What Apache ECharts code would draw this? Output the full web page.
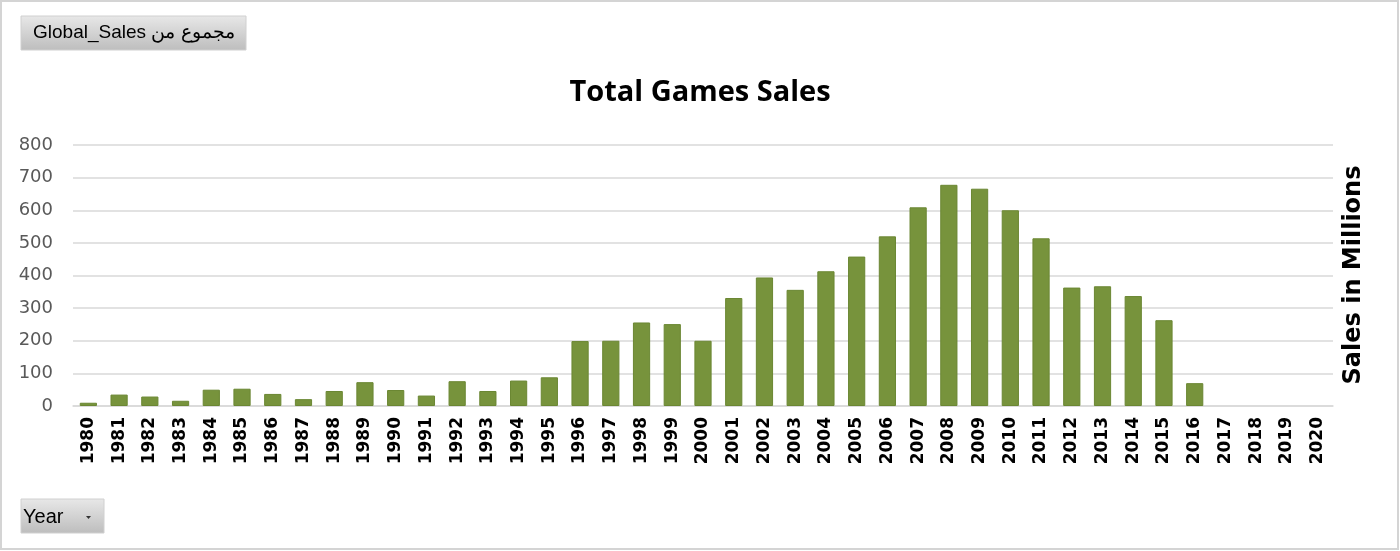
<!DOCTYPE html>
<html>
<head>
<meta charset="utf-8">
<script src="https://cdn.jsdelivr.net/npm/echarts@6/dist/echarts.min.js"></script>
<style>
  html, body { margin: 0; padding: 0; background: #fff; }
  #chart { width: 1400px; height: 551px; }
</style>
</head>
<body>
<div id="chart"></div>
<script>
// years on the x axis
const years = ['1980', '1981', '1982', '1983', '1984', '1985', '1986', '1987', '1988', '1989',
  '1990', '1991', '1992', '1993', '1994', '1995', '1996', '1997', '1998', '1999',
  '2000', '2001', '2002', '2003', '2004', '2005', '2006', '2007', '2008', '2009',
  '2010', '2011', '2012', '2013', '2014', '2015', '2016', '2017', '2018', '2019', '2020']

// global sales, millions; no visible bar after 2016
const sales = [10, 35, 29, 16, 50, 53, 37, 21, 46, 73,
  49, 32, 76, 46, 78, 88, 199, 200, 256, 251,
  200, 331, 394, 356, 413, 458, 520, 609, 678, 666,
  600, 514, 363, 367, 337, 263, 70, null, null, null, null]

const yTicks = [0, 100, 200, 300, 400, 500, 600, 700, 800]

const titleText = 'Total Games Sales'
const axisName = 'Sales in Millions'
const filterLabel = 'Global_Sales مجموع من'
const rowLabel = 'Year'

const chart = echarts.init(document.getElementById('chart'))

const btnFill = new echarts.graphic.LinearGradient(0, 0, 0, 1, [
  { offset: 0, color: '#e8e8e8' },
  { offset: 1, color: '#bdbdbd' }
])

chart.setOption({
  animation: false,
  title: {
    text: titleText,
    left: 'center',
    top: 73,
    textStyle: { fontFamily: 'Open Sans', fontWeight: 'bold', fontSize: 29, color: '#000' }
  },
  grid: { left: 73, right: 67, top: 145, bottom: 145 },
  xAxis: {
    type: 'category',
    data: years,
    axisTick: { show: false },
    axisLine: { lineStyle: { color: '#d9d9d9', width: 1.5 } },
    axisLabel: {
      rotate: 90,
      margin: 11,
      interval: 0,
      fontFamily: 'DejaVu Sans',
      fontWeight: 'bold',
      fontSize: 17,
      color: '#000'
    }
  },
  yAxis: {
    type: 'value',
    min: yTicks[0],
    max: yTicks[yTicks.length - 1],
    interval: 100,
    axisLine: { show: false },
    axisTick: { show: false },
    axisLabel: { margin: 20, fontFamily: 'DejaVu Sans', fontSize: 18, color: '#595959' },
    splitLine: { lineStyle: { color: '#d9d9d9', width: 1.5 } }
  },
  series: [{
    type: 'bar',
    data: sales,
    barWidth: '56%',
    itemStyle: { color: '#77933c', borderColor: '#6b8733', borderWidth: 1 }
  }],
  graphic: [
    {
      type: 'rect',
      shape: { x: 1, y: 1, width: 1397, height: 548 },
      style: { fill: 'none', stroke: '#d4d4d4', lineWidth: 2 },
      silent: true
    },
    {
      type: 'rect',
      shape: { x: 21, y: 16, width: 225, height: 34 },
      style: { fill: btnFill, stroke: '#d0d0d0', lineWidth: 1 }
    },
    {
      type: 'text',
      x: 33, y: 33,
      style: {
        text: filterLabel,
        font: '19px "Liberation Sans", Arial, sans-serif',
        fill: '#000',
        verticalAlign: 'middle'
      }
    },
    {
      type: 'rect',
      shape: { x: 21, y: 499, width: 83, height: 34 },
      style: { fill: btnFill, stroke: '#d0d0d0', lineWidth: 1 }
    },
    {
      type: 'text',
      x: 23, y: 517,
      style: {
        text: rowLabel,
        font: '20px "Liberation Sans", Arial, sans-serif',
        fill: '#000',
        verticalAlign: 'middle'
      }
    },
    {
      type: 'polygon',
      shape: { points: [[86, 516], [91, 516], [88.5, 519]] },
      style: { fill: '#333' }
    },
    {
      type: 'text',
      x: 1354, y: 275,
      rotation: Math.PI / 2,
      style: {
        text: axisName,
        font: 'bold 24px "DejaVu Sans"',
        fill: '#000',
        align: 'center',
        verticalAlign: 'middle'
      }
    }
  ]
})
</script>
</body>
</html>
